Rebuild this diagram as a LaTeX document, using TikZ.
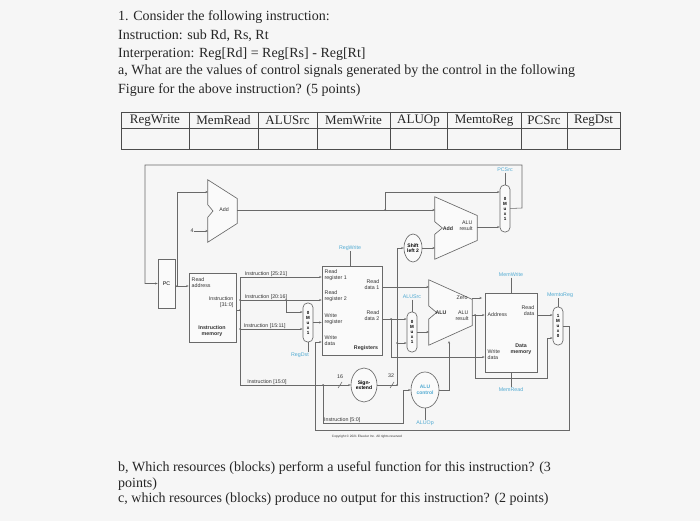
\documentclass[tikz,border=0pt]{standalone}
\usepackage{fontspec}
\setmainfont{Liberation Serif}
\setsansfont{Liberation Sans}
\usetikzlibrary{positioning,calc,shapes.geometric,arrows.meta}
\definecolor{ctrlblue}{RGB}{80,170,210}
\definecolor{wiregray}{RGB}{105,105,105}
\newcommand{\aluunit}[5]{%
 \node[minimum width=#4, minimum height=#5, inner sep=0] (#1) at (#2,#3) {};
 \draw[unit] (#1.north west) -- ($(#1.north east)!0.3!(#1.south east)$) -- ($(#1.north east)!0.7!(#1.south east)$)
   -- (#1.south west) -- ($(#1.north west)!0.6!(#1.south west)$) -- ($(#1.west)+(0.18*#4,0)$)
   -- ($(#1.north west)!0.4!(#1.south west)$) -- cycle;}
\begin{document}
\begin{tikzpicture}
[
x=1pt, y=-1pt,
wire/.style={draw=wiregray, line width=0.55pt},
arr/.style={wire, -{Stealth[length=2.5pt,width=2pt]}},
unit/.style={draw=wiregray, fill=gray!4, line width=0.65pt},
box/.style={unit, inner sep=0},
mux/.style={unit, rounded corners=4.5pt, minimum width=10, inner sep=0, align=center,
            font=\sffamily\fontsize{4.5}{5}\selectfont\bfseries},
oval/.style={unit, ellipse, inner sep=0, align=center, font=\sffamily\fontsize{5}{5.5}\selectfont\bfseries},
lbl/.style={font=\sffamily\fontsize{5.3}{5.8}\selectfont, inner sep=0.5pt, align=left, text=black!80},
ctrl/.style={font=\sffamily\fontsize{5.3}{5.8}\selectfont, text=ctrlblue, inner sep=0.5pt},
question/.style={font=\fontsize{14}{16}\selectfont, anchor=west, inner sep=0, text=black!85},
cell/.style={draw=black!70, line width=0.6pt},
dot/.style={circle, fill=wiregray, inner sep=0, minimum size=2pt},
]
\useasboundingbox (0,0) rectangle (700,521);
\fill[gray!7] (0,0) rectangle (700,521);

% question text
\node[question] (q1) at (118,17) {1. Consider the following instruction:};
\node[question] (q2) at (118,36) {Instruction: sub Rd, Rs, Rt};
\node[question] (q3) at (118,54) {Interperation: Reg[Rd] = Reg[Rs] - Reg[Rt]};
\node[question] (q4) at (118,71) {a, What are the values of control signals generated by the control in the following};
\node[question] (q5) at (118,90) {Figure for the above instruction? (5 points)};
\node[question] (q6) at (118,468) {b, Which resources (blocks) perform a useful function for this instruction? (3};
\node[question] (q7) at (118,484) {points)};
\node[question] (q8) at (118,499) {c, which resources (blocks) produce no output for this instruction? (2 points)};

% table
\draw[cell] (121,112) rectangle (620,149) (121,128) -- (620,128);
\foreach \xa/\xb/\name in {121/189/RegWrite,189/258/MemRead,258/317/ALUSrc,317/390/MemWrite,
                           390/447/ALUOp,447/521/MemtoReg,521/567/PCSrc,567/620/RegDst}
  {\draw[cell] (\xb,112) -- (\xb,149);
   \node[font=\fontsize{13}{14}\selectfont, inner sep=0, text=black!85] at ({(\xa+\xb)/2},120.5) {\name};}

% units
\node (pc) [box, minimum width=17, minimum height=49, font=\sffamily\fontsize{5.3}{5.8}\selectfont] at (166.5,283.5) {PC};
\node (imem) [box, minimum width=47, minimum height=69] at (212.5,307.5) {};
\node (regs) [box, minimum width=60, minimum height=89] at (352,310.5) {};
\node (dmem) [box, minimum width=52, minimum height=79] at (511,332.5) {};
\node (pcsrc) [mux, minimum height=47] at (505,208.5) {0\\M\\u\\x\\1};
\node (regdst) [mux, minimum height=39] at (308,322.5) {0\\M\\u\\x\\1};
\node (alusrc) [mux, minimum height=40] at (412,332) {0\\M\\u\\x\\1};
\node (memtoreg) [mux, minimum height=38] at (558,326) {1\\M\\u\\x\\0};
\node (shift) [oval, minimum width=18, minimum height=28] at (413,248) {Shift\\left 2};
\node (signext) [oval, minimum width=26, minimum height=34] at (364,385) {Sign-\\extend};
\node (aluctl) [oval, minimum width=28, minimum height=36, text=ctrlblue] at (425,390) {ALU\\control};
\aluunit{addpc}{222.5}{211}{29}{62}
\aluunit{addbr}{456}{228}{42}{62}
\aluunit{alu}{450.5}{312.5}{43}{65}

% unit labels
\node[lbl] at (224,210) {Add};
\node[lbl, font=\sffamily\fontsize{5.3}{5.8}\selectfont\bfseries] at (448,229) {Add};
\node[lbl, align=right] at (466,226) {ALU\\result};
\node[lbl, font=\sffamily\fontsize{5.3}{5.8}\selectfont\bfseries] at (441,313) {ALU};
\node[lbl] at (462,298) {Zero};
\node[lbl, align=right] at (462,316) {ALU\\result};
\node[lbl, anchor=north west] at (191,277) {Read\\address};
\node[lbl, anchor=east, align=right] at (234,302) {Instruction\\{}[31:0]};
\node[lbl, align=center, font=\sffamily\fontsize{5.3}{5.8}\selectfont\bfseries] at (212,331) {Instruction\\memory};
\node[lbl, anchor=north west] at (324,269) {Read\\register 1};
\node[lbl, anchor=north west] at (324,290) {Read\\register 2};
\node[lbl, anchor=north west] at (324,313) {Write\\register};
\node[lbl, anchor=north west] at (324,335) {Write\\data};
\node[lbl, anchor=north east, align=right] at (380,279) {Read\\data 1};
\node[lbl, anchor=north east, align=right] at (380,310) {Read\\data 2};
\node[lbl, font=\sffamily\fontsize{5.3}{5.8}\selectfont\bfseries] at (366,348) {Registers};
\node[lbl, anchor=west] at (487,315) {Address};
\node[lbl, anchor=north east, align=right] at (535,305) {Read\\data};
\node[lbl, anchor=west] at (487,355) {Write\\data};
\node[lbl, align=center, font=\sffamily\fontsize{5.3}{5.8}\selectfont\bfseries] at (521,349) {Data\\memory};

% control signals
\node (cPCSrc) [ctrl] at (505,170) {PCSrc};
\node (cRegWrite) [ctrl] at (350,248) {RegWrite};
\node (cALUSrc) [ctrl] at (412,297) {ALUSrc};
\node (cRegDst) [ctrl] at (300,355) {RegDst};
\node (cMemWrite) [ctrl] at (511,275) {MemWrite};
\node (cMemRead) [ctrl] at (511,390) {MemRead};
\node (cMemtoReg) [ctrl] at (560,295) {MemtoReg};
\node (cALUOp) [ctrl] at (425,423) {ALUOp};
\draw[wire] (cPCSrc) -- (pcsrc.north);
\draw[wire] (cRegWrite) -- (regs.north -| cRegWrite);
\draw[wire] (cALUSrc) -- (alusrc.north);
\draw[wire] (regdst.south) -- (regdst.south |- cRegDst.north);
\draw[wire] (cMemWrite) -- (dmem.north);
\draw[wire] (dmem.south) -- (cMemRead);
\draw[wire] (cMemtoReg.south -| memtoreg) -- (memtoreg.north);
\draw[wire] (aluctl.south) -- (cALUOp);

% datapath wires
\coordinate (jpc) at (177,286);
\coordinate (jadd) at (385,210);
\coordinate (jbus) at (240,310);
\coordinate (jrt) at (286,300);
\coordinate (jimm) at (323,385);
\coordinate (jsx) at (397,385);
\coordinate (jrd2) at (391,319);
\coordinate (jres) at (475,315);
\draw[arr] (pcsrc.east) -- (522,208) -- (522,165) -- (145,165) |- (pc.west);
\draw[arr] (pc.east |- jpc) -- (imem.west |- jpc);
\draw[arr] (jpc) |- (208,192);
\node (four) [lbl] at (192,231) {4};
\draw[arr] (four) -- (208,231);
\draw[wire] (237,210) -- (jadd);
\draw[arr] (jadd) -- (435,210);
\draw[arr] (jadd) |- (pcsrc.west |- 0,192);
\draw[arr] (477,227) -- (pcsrc.west |- 0,227);
\draw[arr] (shift.east) -- (435,248);
\draw[wire] (imem.east |- jbus) -- (jbus) (240,277) -- (240,385);
\draw[arr] (240,277) -- (regs.west |- 0,277) node[lbl, pos=0.05, above right] {Instruction [25:21]};
\draw[arr] (240,300) -- (regs.west |- 0,300) node[lbl, pos=0.05, above right] {Instruction [20:16]};
\draw[arr] (jrt) |- (regdst.west |- 0,312);
\draw[arr] (240,329) -- (regdst.west |- 0,329) node[lbl, pos=0.05, above right] {Instruction [15:11]};
\draw[arr] (240,385) -- (signext.west) node[lbl, pos=0.06, above right] {Instruction [15:0]};
\draw[arr] (jimm) |- (403,423) node[lbl, pos=0.62, above] {Instruction [5:0]} -- (403,390) -- (aluctl.west);
\draw[arr] (regdst.east) -- (regs.west |- regdst.east);
\draw[wire] (signext.east) -- (jsx);
\draw[arr] (jsx) |- (shift.west);
\draw[arr] (397,343) -- (alusrc.west |- 0,343);
\draw[wire] (338,388) -- (342,382) (390,388) -- (394,382);
\node[lbl] at (340,377) {16};
\node[lbl] at (391,376) {32};
\draw[arr] (regs.east |- 0,287) -- (429,287);
\draw[arr] (regs.east |- jrd2) -- (alusrc.west |- jrd2);
\draw[arr] (jrd2) |- (dmem.west |- 0,357);
\draw[arr] (alusrc.east) -- (429,332);
\draw[arr] (472,298) -- (482,298);
\draw[arr] (472,315) -- (dmem.west |- jres);
\draw[arr] (jres) |- (547,378) |- (memtoreg.west |- 0,338);
\draw[arr] (aluctl.east) -| (449,341);
\draw[arr] (dmem.east |- 0,315) -- (memtoreg.west |- 0,315);
\draw[arr] (memtoreg.east) -| (569,430) -| (315,342) -- (regs.west |- 0,342);
\foreach \j in {jpc,jadd,jbus,jrt,jimm,jsx,jrd2,jres}
  \node[dot] at (\j) {};
\node[dot] at (397,343) {};
\node[dot] at (240,300) {};
\node[dot] at (240,329) {};
\node[lbl, font=\sffamily\fontsize{3.2}{3.6}\selectfont] at (367,437) {Copyright \textcopyright\ 2021 Elsevier Inc. All rights reserved};
\end{tikzpicture}
\end{document}
